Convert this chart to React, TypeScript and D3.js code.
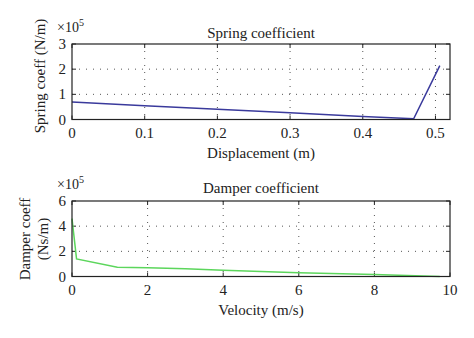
import React from "react";
import * as d3 from "d3";

const springX = [0, 0.1, 0.2, 0.3, 0.4, 0.47, 0.506];
const springY = [0.7, 0.55, 0.41, 0.27, 0.12, 0.03, 2.14];
const springXTicks = [0, 0.1, 0.2, 0.3, 0.4, 0.5];
const springYTicks = [0, 1, 2, 3];

const damperX = [0, 0.12, 1.2, 2, 3, 4, 6, 8, 9.73];
const damperY = [4.6, 1.4, 0.74, 0.7, 0.62, 0.5, 0.3, 0.16, 0.0];
const damperXTicks = [0, 2, 4, 6, 8, 10];
const damperYTicks = [0, 2, 4, 6];

const FONT = "'Liberation Serif', 'DejaVu Serif', serif";

type PanelProps = {
  top: number;
  bottom: number;
  xDomain: [number, number];
  yDomain: [number, number];
  xTicks: number[];
  yTicks: number[];
  xs: number[];
  ys: number[];
  color: string;
  title: string;
  titleDy: number;
  xLabel: string;
  yLabel: string[];
  yLabelX: number[];
  yLabelMid: number;
  xFmt: (v: number) => string;
};

const LEFT = 72;
const RIGHT = 450;

function Panel(p: PanelProps) {
  const x = d3.scaleLinear().domain(p.xDomain).range([LEFT, RIGHT]);
  const y = d3.scaleLinear().domain(p.yDomain).range([p.bottom, p.top]);
  const line = d3
    .line<number>()
    .x((_, i) => x(p.xs[i]))
    .y((d) => y(d));
  const tl = 4;
  return (
    <g fontFamily={FONT} fill="#222">
      {p.xTicks
        .filter((t) => x(t) > LEFT + 1 && x(t) < RIGHT - 1)
        .map((t) => (
          <line key={"gx" + t} x1={x(t)} x2={x(t)} y1={p.top} y2={p.bottom} stroke="#555" strokeWidth={1} strokeDasharray="1,6" />
        ))}
      {p.yTicks
        .filter((t) => y(t) > p.top + 1 && y(t) < p.bottom - 1)
        .map((t) => (
          <line key={"gy" + t} x1={LEFT} x2={RIGHT} y1={y(t)} y2={y(t)} stroke="#555" strokeWidth={1} strokeDasharray="1,6" />
        ))}
      {p.xTicks.map((t) => (
        <g key={"tx" + t}>
          <line x1={x(t)} x2={x(t)} y1={p.bottom} y2={p.bottom - tl} stroke="#222" />
          <line x1={x(t)} x2={x(t)} y1={p.top} y2={p.top + tl} stroke="#222" />
          <text x={x(t)} y={p.bottom + 18} fontSize={15} textAnchor="middle">
            {p.xFmt(t)}
          </text>
        </g>
      ))}
      {p.yTicks.map((t) => (
        <g key={"ty" + t}>
          <line x1={LEFT} x2={LEFT + tl} y1={y(t)} y2={y(t)} stroke="#222" />
          <line x1={RIGHT} x2={RIGHT - tl} y1={y(t)} y2={y(t)} stroke="#222" />
          <text x={66} y={y(t) + 5} fontSize={15} textAnchor="end">
            {t}
          </text>
        </g>
      ))}
      <path d={line(p.ys) || ""} fill="none" stroke={p.color} strokeWidth={1.5} />
      <rect x={LEFT} y={p.top} width={RIGHT - LEFT} height={p.bottom - p.top} fill="none" stroke="#222" strokeWidth={1.2} />
      <text x={57} y={p.top - 12} fontSize={14}>
        ×10
        <tspan dy={-6} fontSize={10}>5</tspan>
      </text>
      <text x={261} y={p.top - p.titleDy} fontSize={15} textAnchor="middle">
        {p.title}
      </text>
      <text x={261} y={p.bottom + 38} fontSize={15} textAnchor="middle">
        {p.xLabel}
      </text>
      {p.yLabel.map((s, i) => (
        <text key={s} transform={`translate(${p.yLabelX[i]},${p.yLabelMid}) rotate(-90)`} fontSize={15} textAnchor="middle">
          {s}
        </text>
      ))}
    </g>
  );
}

export default function App() {
  return (
    <svg width={474} height={338} style={{ position: "absolute", left: 0, top: 0, background: "#fff" }}>
      <rect width={474} height={338} fill="#fff" />
      <Panel
        top={44}
        bottom={119.5}
        xDomain={[0, 0.52]}
        yDomain={[0, 3]}
        xTicks={springXTicks}
        yTicks={springYTicks}
        xs={springX}
        ys={springY}
        color="#3a3a9c"
        title="Spring coefficient"
        titleDy={6}
        xLabel="Displacement (m)"
        yLabel={["Spring coeff (N/m)"]}
        yLabelX={[45]}
        yLabelMid={76}
        xFmt={(v) => (v === 0 ? "0" : String(v))}
      />
      <Panel
        top={201}
        bottom={276.5}
        xDomain={[0, 10]}
        yDomain={[0, 6]}
        xTicks={damperXTicks}
        yTicks={damperYTicks}
        xs={damperX}
        ys={damperY}
        color="#5cd65c"
        title="Damper coefficient"
        titleDy={8}
        xLabel="Velocity (m/s)"
        yLabel={["Damper coeff", "(Ns/m)"]}
        yLabelX={[30, 48]}
        yLabelMid={239}
        xFmt={(v) => String(v)}
      />
    </svg>
  );
}
